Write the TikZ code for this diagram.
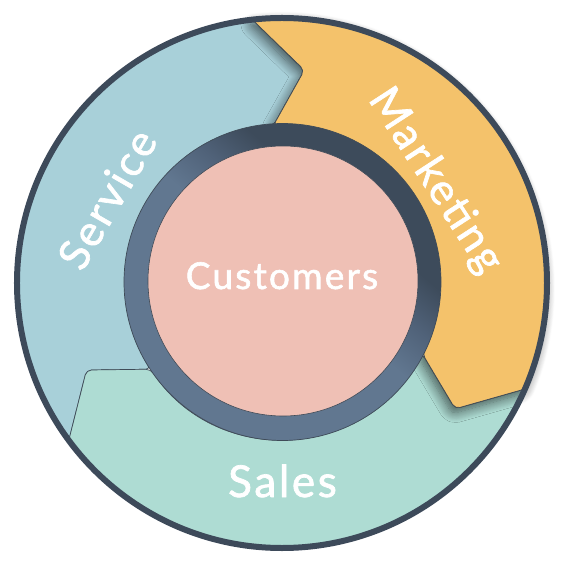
\documentclass[tikz,border=0pt]{standalone}
\usepackage{fontspec}
\setmainfont{Lato}
\newfontfamily\lblfont[FakeBold=1.6, LetterSpace=6]{Lato}
\usetikzlibrary{shadows.blur}
\definecolor{rim}{HTML}{3D4A5A}
\definecolor{svc}{HTML}{A8D0D9}
\definecolor{mkt}{HTML}{F4C26B}
\definecolor{sal}{HTML}{AEDCD3}
\definecolor{ringlight}{HTML}{617790}
\definecolor{ringmid}{HTML}{506279}
\definecolor{ringdark}{HTML}{3D4B5B}
\definecolor{core}{HTML}{EFC0B5}
\definecolor{edgecol}{HTML}{3F4B58}
\pgfdeclareverticalshading{ringshade}{100bp}{color(0bp)=(ringlight); color(51bp)=(ringlight); color(58bp)=(ringmid); color(65bp)=(ringdark); color(100bp)=(ringdark)}
% #1 head tip angle, #2 tail tip angle (= #1 + 120)
\newcommand{\segpath}[2]{({#2+12.6}:266pt) arc[start angle={#2+12.6}, end angle={#1+12.6}, radius=266pt] -- (#1:214pt) -- ({#1+9.3}:157pt) arc[start angle={#1+9.3}, end angle={#2+9.3}, radius=157pt] -- (#2:214pt) -- cycle}
\tikzset{
  segment/.style={draw=edgecol, line width=0.7pt, rounded corners=5pt},
  label/.style={text=white, inner sep=0pt},
}
\begin{document}
\begin{tikzpicture}[x=1pt,y=1pt]
\useasboundingbox (-282,-284) rectangle (281,283);
% segments
\filldraw[segment, fill=svc] \segpath{84}{204};
\filldraw[segment, fill=sal] \segpath{-156}{-36};
\filldraw[segment, fill=mkt, blur shadow={shadow xshift=-3pt, shadow yshift=-5pt, shadow blur radius=10pt, shadow blur steps=12, shadow opacity=60}] \segpath{-36}{84};
% outer rim
\draw[rim, line width=6pt] (0,0) circle (265pt);
% ring
\shade[shading=ringshade, shading angle=-40] (0.5,1) circle (158.5pt);
\draw[edgecol, line width=0.7pt] (0.5,1) circle (158.5pt);
\filldraw[fill=core, draw=edgecol, line width=0.6pt] (1,2) circle (135pt);
% labels
\node[label, font=\lblfont\fontsize{37}{37}\selectfont, anchor=base] (cust) at (0,-6) {Customers};
\node[label, font=\lblfont\fontsize{44}{44}\selectfont, anchor=base] (sales) at (0.5,-214) {Sales};
\node[label, font=\lblfont\fontsize{43}{43}\selectfont, rotate=60] (service) at (-175,84) {Service};
\node[label, font=\lblfont\fontsize{43}{43}\selectfont, rotate=-57] (marketing) at (153,102) {Marketing};
\end{tikzpicture}
\end{document}
